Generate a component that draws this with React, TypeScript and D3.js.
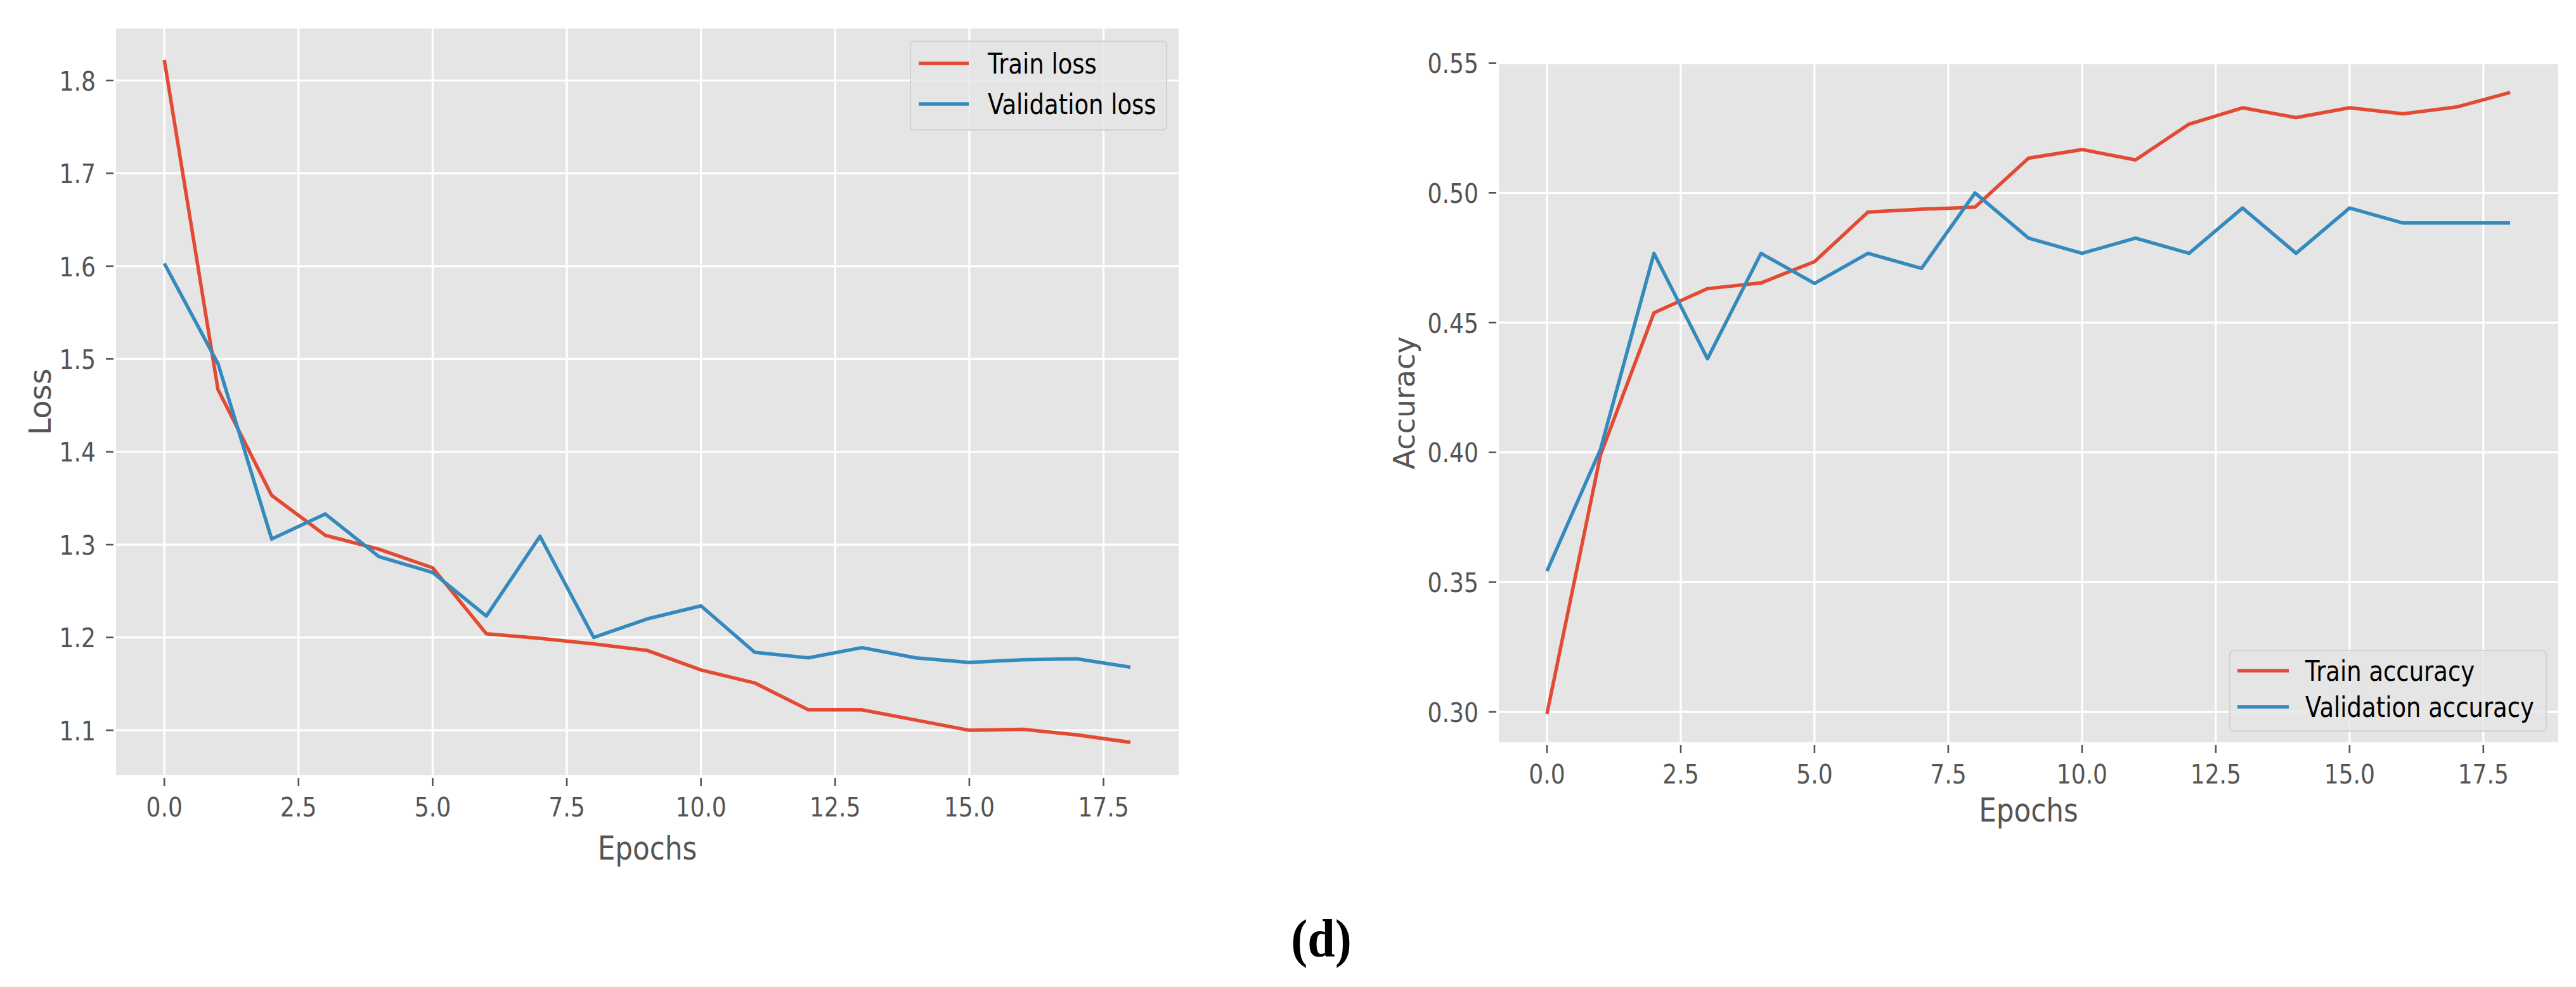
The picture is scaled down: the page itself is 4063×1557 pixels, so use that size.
import React from "react";
import * as d3 from "d3";

const epochs = d3.range(19);
const trainLoss = [1.822, 1.467, 1.353, 1.310, 1.295, 1.275, 1.204, 1.199, 1.193, 1.186, 1.165, 1.151, 1.122, 1.122, 1.111, 1.100, 1.101, 1.095, 1.087];
const valLoss = [1.603, 1.495, 1.306, 1.333, 1.287, 1.270, 1.223, 1.309, 1.200, 1.220, 1.234, 1.184, 1.178, 1.189, 1.178, 1.173, 1.176, 1.177, 1.168];
const trainAcc = [0.2993, 0.399, 0.4538, 0.4631, 0.4653, 0.4735, 0.4926, 0.4937, 0.4945, 0.5134, 0.5167, 0.5127, 0.5265, 0.5328, 0.5290, 0.5328, 0.5305, 0.5331, 0.5387];
const valAcc = [0.3543, 0.4012, 0.4767, 0.4361, 0.4767, 0.4651, 0.4767, 0.4709, 0.5000, 0.4826, 0.4767, 0.4826, 0.4767, 0.4942, 0.4767, 0.4942, 0.4884, 0.4884, 0.4884];

const xTicks = [0, 2.5, 5, 7.5, 10, 12.5, 15, 17.5];
const lossTicks = [1.1, 1.2, 1.3, 1.4, 1.5, 1.6, 1.7, 1.8];
const accTicks = [0.30, 0.35, 0.40, 0.45, 0.50, 0.55];

const RED = "#E24A33";
const BLUE = "#348ABD";
const BG = "#E5E5E5";
const GREY = "#555555";
const FONT = "DejaVu Sans, sans-serif";
const SX = 0.84;

type PanelProps = {
  left: number; right: number; top: number; bottom: number;
  xDomain: [number, number]; yDomain: [number, number];
  yTicks: number[]; yFmt: (v: number) => string;
  series: { values: number[]; color: string; label: string }[];
  yLabel: string; yLabelX: number; yLabelSize: number;
  xLabelOffset: number;
  legend: { x0: number; x1: number; y0: number; y1: number; rows: number[]; lineX0: number; lineX1: number; textX: number };
};

function HText({ x, y, size, fill, anchor, children, weight, family }: any) {
  return (
    <text
      transform={`translate(${x},${y}) scale(${SX},1)`}
      fontSize={size}
      fill={fill}
      textAnchor={anchor}
      fontFamily={family || FONT}
      fontWeight={weight}
    >
      {children}
    </text>
  );
}

function Panel(p: PanelProps) {
  const x = d3.scaleLinear().domain(p.xDomain).range([p.left, p.right]);
  const y = d3.scaleLinear().domain(p.yDomain).range([p.bottom, p.top]);
  const line = (vals: number[]) =>
    d3.line<number>().x((_, i) => x(epochs[i])).y((v) => y(v))(vals) || "";
  const cx = (p.left + p.right) / 2;
  const cy = (p.top + p.bottom) / 2;
  return (
    <g>
      <rect x={p.left} y={p.top} width={p.right - p.left} height={p.bottom - p.top} fill={BG} />
      {xTicks.map((t) => (
        <line key={"gx" + t} x1={x(t)} x2={x(t)} y1={p.top} y2={p.bottom} stroke="#fff" strokeWidth={3.2} />
      ))}
      {p.yTicks.map((t) => (
        <line key={"gy" + t} x1={p.left} x2={p.right} y1={y(t)} y2={y(t)} stroke="#fff" strokeWidth={3.2} />
      ))}
      {xTicks.map((t) => (
        <g key={"tx" + t}>
          <line x1={x(t)} x2={x(t)} y1={p.bottom + 4} y2={p.bottom + 17} stroke={GREY} strokeWidth={2.6} />
          <HText x={x(t)} y={p.bottom + 65} size={43} fill={GREY} anchor="middle">
            {t.toFixed(1)}
          </HText>
        </g>
      ))}
      {p.yTicks.map((t) => (
        <g key={"ty" + t}>
          <line x1={p.left - 4} x2={p.left - 16} y1={y(t)} y2={y(t)} stroke={GREY} strokeWidth={2.6} />
          <HText x={p.left - 32} y={y(t) + 15.7} size={43} fill={GREY} anchor="end">
            {p.yFmt(t)}
          </HText>
        </g>
      ))}
      {p.series.map((s) => (
        <path key={s.label} d={line(s.values)} fill="none" stroke={s.color} strokeWidth={5.5} strokeLinejoin="round" />
      ))}
      <HText x={cx} y={p.bottom + p.xLabelOffset} size={52} fill={GREY} anchor="middle">
        Epochs
      </HText>
      <text
        transform={`translate(${p.yLabelX},${cy}) rotate(-90)`}
        fontSize={p.yLabelSize}
        fill={GREY}
        textAnchor="middle"
        fontFamily={FONT}
      >
        {p.yLabel}
      </text>
      <rect
        x={p.legend.x0}
        y={p.legend.y0}
        width={p.legend.x1 - p.legend.x0}
        height={p.legend.y1 - p.legend.y0}
        rx={6}
        fill={BG}
        fillOpacity={0.8}
        stroke="#d2d2d2"
        strokeWidth={2}
      />
      {p.series.map((s, i) => (
        <g key={"lg" + s.label}>
          <line
            x1={p.legend.lineX0}
            x2={p.legend.lineX1}
            y1={p.legend.rows[i]}
            y2={p.legend.rows[i]}
            stroke={s.color}
            strokeWidth={5.5}
          />
          <HText x={p.legend.textX} y={p.legend.rows[i] + 16} size={44} fill="#000" anchor="start">
            {s.label}
          </HText>
        </g>
      ))}
    </g>
  );
}

export default function App() {
  return (
    <svg
      width={4063}
      height={1557}
      style={{ position: "absolute", left: 0, top: 0, background: "#fff" }}
    >
      <rect x={0} y={0} width={4063} height={1557} fill="#fff" />
      <Panel
        left={183}
        right={1859}
        top={45}
        bottom={1223}
        xDomain={[-0.9, 18.9]}
        yDomain={[1.0515, 1.856]}
        yTicks={lossTicks}
        yFmt={(v) => v.toFixed(1)}
        series={[
          { values: trainLoss, color: RED, label: "Train loss" },
          { values: valLoss, color: BLUE, label: "Validation loss" },
        ]}
        yLabel="Loss"
        yLabelX={80}
        yLabelSize={48}
        xLabelOffset={133}
        legend={{ x0: 1436, x1: 1840, y0: 65, y1: 205, rows: [100, 164], lineX0: 1449, lineX1: 1528, textX: 1558 }}
      />
      <Panel
        left={2364}
        right={4035}
        top={100}
        bottom={1171}
        xDomain={[-0.9, 18.9]}
        yDomain={[0.2883, 0.5499]}
        yTicks={accTicks}
        yFmt={(v) => v.toFixed(2)}
        series={[
          { values: trainAcc, color: RED, label: "Train accuracy" },
          { values: valAcc, color: BLUE, label: "Validation accuracy" },
        ]}
        yLabel="Accuracy"
        yLabelX={2231}
        yLabelSize={46}
        xLabelOffset={125}
        legend={{ x0: 3517, x1: 4016, y0: 1026, y1: 1153, rows: [1058, 1115], lineX0: 3529, lineX1: 3610, textX: 3636 }}
      />
      <text
        transform={`translate(2084,1509) scale(0.93,1)`}
        fontSize={84}
        fontWeight="bold"
        fontFamily="Liberation Serif, Times New Roman, serif"
        textAnchor="middle"
        fill="#000"
      >
        (d)
      </text>
    </svg>
  );
}
